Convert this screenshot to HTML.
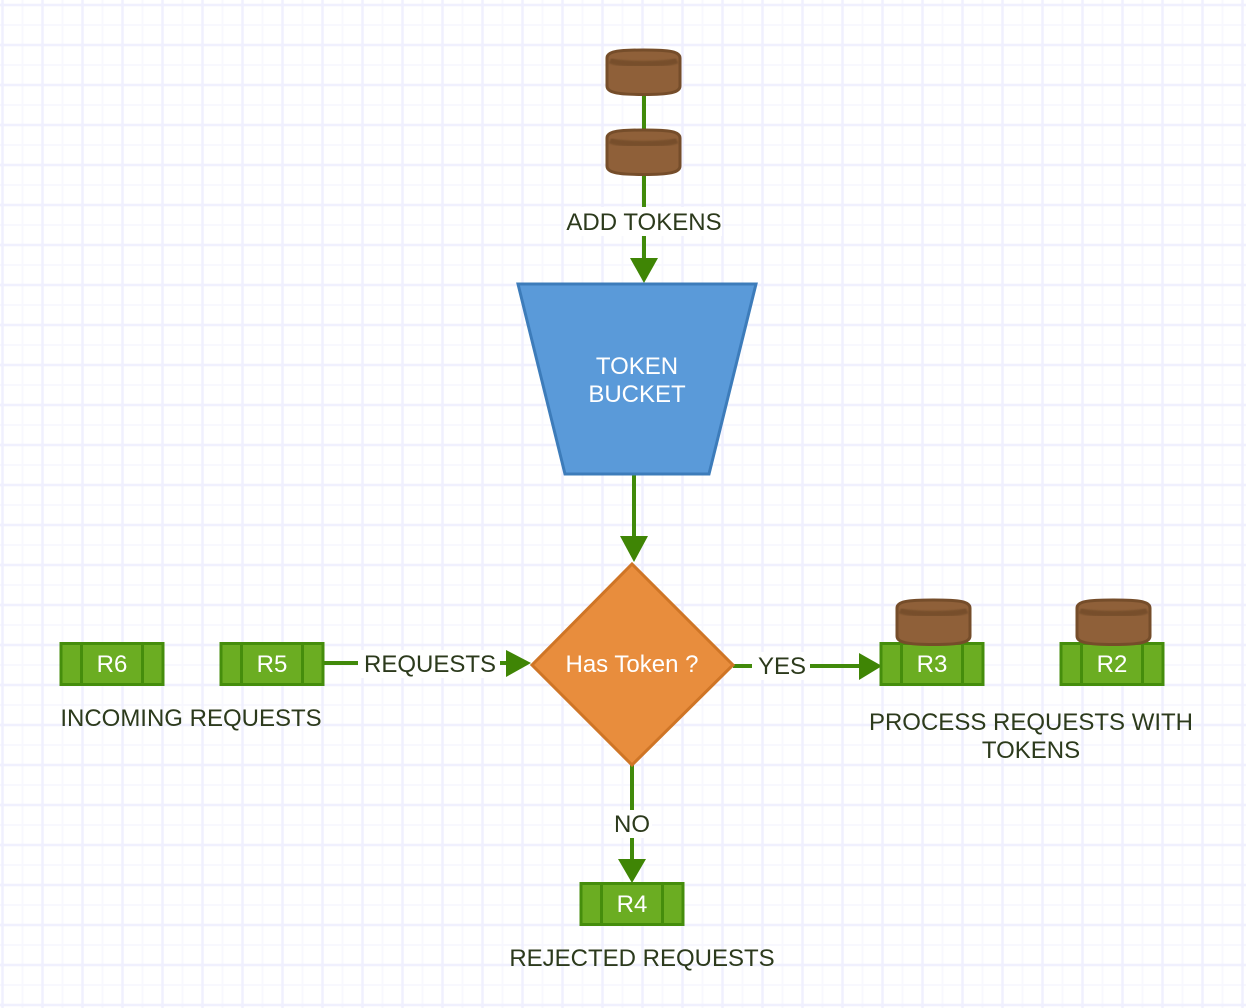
<!DOCTYPE html>
<html>
<head>
<meta charset="utf-8">
<style>
html,body{margin:0;padding:0;background:#fff;width:1246px;height:1008px;overflow:hidden}
svg{display:block}
text{font-family:"Liberation Sans",Arial,sans-serif;font-size:24px}
.l{fill:#2c3a1c;text-anchor:middle;font-size:24px}
.w{fill:#fff;text-anchor:middle}
.edge{stroke:#418a0b;stroke-width:4;fill:none}
.head{fill:#3f8505;stroke:none}
.bg{fill:#fff}
</style>
</head>
<body>
<svg xmlns="http://www.w3.org/2000/svg" width="1246" height="1008" viewBox="0 0 1246 1008">
<defs>
<pattern id="g" x="2.5" y="5" width="40" height="40" patternUnits="userSpaceOnUse">
<path d="M20 0V40M0 20H40" stroke="#f8f8fe" stroke-width="2" fill="none"/>
<path d="M0 0V40M40 0V40M0 0H40M0 40H40" stroke="#f0f0fe" stroke-width="2.500" fill="none"/>
</pattern>
<filter id="soft" x="-10%" y="-50%" width="120%" height="200%"><feGaussianBlur stdDeviation="0.8"/></filter>
<g id="cyl">
<path d="M0 8C0 1.500 10 0 36.500 0C63 0 73 1.500 73 8V36C73 42.500 63 44.500 36.500 44.500C10 44.500 0 42.500 0 36Z" fill="#8f6039" stroke="#754d2a" stroke-width="3"/>
<path d="M3 10.500C12 15 61 15 70 10.500" fill="none" stroke="#754d2a" stroke-width="6" opacity=".9" filter="url(#soft)"/>
</g>
<g id="proc">
<rect x="0" y="0" width="102" height="41" fill="#6bad22" stroke="#458d0c" stroke-width="3"/>
<path d="M20.500 0V41M81.500 0V41" stroke="#458d0c" stroke-width="3"/>
</g>
</defs>
<rect width="1246" height="1008" fill="url(#g)"/>

<!-- connectors -->
<path class="edge" d="M644 95V130"/>
<path class="edge" d="M644 175V262"/>
<rect class="bg" x="566" y="207" width="156" height="29"/>
<path class="head" d="M630 258L644 283L658 258Z"/>
<path class="edge" d="M634 474V540"/>
<path class="head" d="M620 536L634 562L648 536Z"/>
<path class="edge" d="M323 663H510"/>
<rect class="bg" x="358" y="650" width="142" height="28"/>
<path class="head" d="M506 650L531 663L506 677Z"/>
<path class="edge" d="M733 666H864"/>
<rect class="bg" x="752" y="652" width="58" height="28"/>
<path class="head" d="M859 653L882 666L859 680Z"/>
<path class="edge" d="M632 765V862"/>
<rect class="bg" x="612" y="810" width="40" height="28"/>
<path class="head" d="M618 859L632 883L646 859Z"/>

<!-- token cylinders -->
<use href="#cyl" x="607" y="50"/>
<use href="#cyl" x="607" y="130"/>

<!-- bucket -->
<path d="M518 284H756L709 474H565Z" fill="#5a9ad9" stroke="#3d7cba" stroke-width="3"/>
<text class="w" x="637" y="374">TOKEN</text>
<text class="w" x="637" y="402">BUCKET</text>

<!-- diamond -->
<path d="M632 564L733 665L632 765L532 665Z" fill="#e88d3d" stroke="#cf7526" stroke-width="3"/>
<text class="w" x="632" y="672">Has Token ?</text>

<!-- process nodes -->
<use href="#proc" x="61" y="643.500"/>
<text class="w" x="112" y="672">R6</text>
<use href="#proc" x="221" y="643.500"/>
<text class="w" x="272" y="672">R5</text>
<use href="#proc" x="881" y="643.500"/>
<text class="w" x="932" y="672">R3</text>
<use href="#proc" x="1061" y="643.500"/>
<text class="w" x="1112" y="672">R2</text>
<use href="#proc" x="581" y="883.500"/>
<text class="w" x="632" y="912">R4</text>

<!-- cylinders on requests -->
<use href="#cyl" x="897" y="600"/>
<use href="#cyl" x="1077" y="600"/>

<!-- labels -->
<text class="l" x="644" y="230">ADD TOKENS</text>
<text class="l" x="430" y="672">REQUESTS</text>
<text class="l" x="782" y="674">YES</text>
<text class="l" x="632" y="832">NO</text>
<text class="l" x="191" y="726">INCOMING REQUESTS</text>
<text class="l" x="1031" y="730">PROCESS REQUESTS WITH</text>
<text class="l" x="1031" y="758">TOKENS</text>
<text class="l" x="642" y="966">REJECTED REQUESTS</text>
</svg>
</body>
</html>
